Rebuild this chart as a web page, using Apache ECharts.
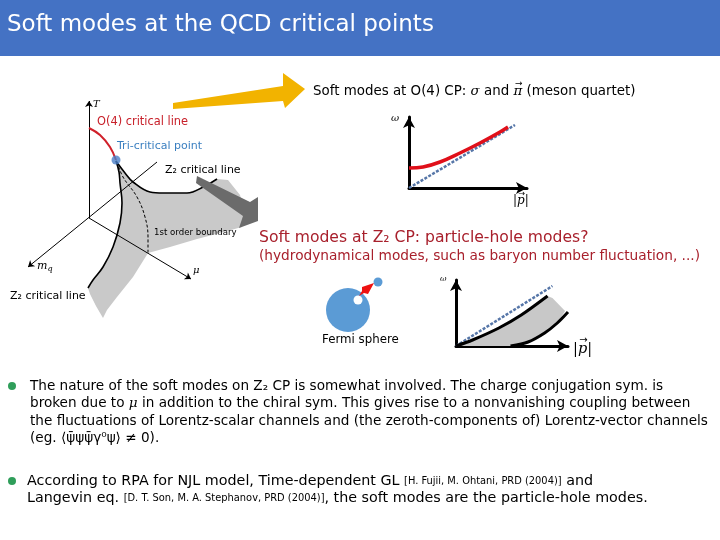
<!DOCTYPE html>
<html><head><meta charset="utf-8">
<script src="https://cdn.jsdelivr.net/npm/echarts@6/dist/echarts.min.js"></script>
<style>html,body{margin:0;padding:0;background:#fff}#c{width:720px;height:540px}</style>
</head><body><div id="c"></div>
<script>
// ---- Plot 1: soft modes at O(4) CP (|p|, omega) ----
const o4SigmaPi = [[0,20],[14,21],[31,26],[51,35],[71,45],[91,56],[99,61]];
const o4LightCone = [[0,0],[106,63]];
// ---- Plot 2: soft modes at Z2 CP ----
const z2LightCone = [[0,0],[99,60]];
const z2Upper = [[0,0],[17,6],[44,18],[67,31],[94,50]];
const z2Lower = [[56,0],[74,4],[91,13],[104,23],[115,34]];
const z2Band = [[0,0],[17,6],[44,18],[67,31],[94,50],[99,48],[112,35],[104,23],[91,13],[74,4],[56,0]];
// ---- Phase diagram sketch (page coordinates) ----
const axisT = [[89,218],[89,101]];
const axisMq = [[157,162],[28,267]];
const axisMu = [[89,218],[191,279]];
const o4Line = [[89,128],[100,135],[110,147],[116,160]];
const triCritical = [[116,160]];
const z2UpperLine = [[116,161],[125,173],[133,182],[150,192],[163,193],[187,193],[205,186],[217,179]];
const z2LowerLine = [[116,161],[119,172],[120,183],[122,203],[120,223],[113,247],[103,267],[93,280],[88,288]];
const firstOrderLine = [[117,162],[123,177],[137,197],[145,217],[148,237],[148,253]];
const surface = [[116,161],[125,173],[133,182],[150,192],[163,193],[187,193],[205,186],[217,179],[228,180],[240,195],[246,215],[242,227],[220,233],[197,239],[170,247],[148,253],[133,277],[117,297],[107,310],[103,318],[96,306],[90,294],[88,288],[93,280],[103,267],[113,247],[120,223],[122,203],[120,183],[119,172]];

const FONT = '"DejaVu Sans"';
const SERIF = '"DejaVu Serif"';
const mctx = document.createElement('canvas').getContext('2d');
function tw(s, f){ mctx.font = f; return mctx.measureText(s).width; }

const chart = echarts.init(document.getElementById('c'), null, {renderer:'canvas'});

function hiddenAxis(idx, min, max, inverse){
  return {gridIndex:idx, type:'value', min:min, max:max, inverse:!!inverse, show:false};
}
function arrowAxis(idx, max){
  return {gridIndex:idx, type:'value', min:0, max:max,
    axisLine:{show:true, onZero:true, symbol:['none','arrow'], symbolSize:[9,11], lineStyle:{color:'#000', width:3}},
    axisTick:{show:false}, axisLabel:{show:false}, splitLine:{show:false}};
}
function polygonSeries(xi, yi, pts, color, z){
  return {type:'custom', xAxisIndex:xi, yAxisIndex:yi, z:z, silent:true, clip:false, data:[[pts[0][0], pts[0][1]]],
    renderItem:function(params, api){
      return {type:'polygon', shape:{points: pts.map(p => api.coord(p))}, style:{fill:color}};
    }};
}
function txt(text, x, y, font, fill, extra){
  const s = Object.assign({text:text, x:x, y:y, verticalAlign:'middle', font:font, fill:fill||'#000'}, extra||{});
  return {type:'text', z:10, style:s};
}
// vector label |v| with an arrow over the letter
function vecLabel(x, y, size, letter){
  const f = size + 'px ' + SERIF;
  const fi = 'italic ' + size + 'px ' + SERIF;
  const w1 = tw('|', f), w2 = tw(letter, fi);
  const af = Math.round(size*0.7) + 'px ' + FONT;
  return [
    txt('|', x, y, f),
    txt(letter, x + w1, y, fi),
    txt('|', x + w1 + w2, y, f),
    txt('→', x + w1 + w2/2 + 1, y - size*0.62, af, '#000', {align:'center'})
  ];
}

// O(4) heading pieces
const o4Font = '13.4px ' + FONT, o4It = 'italic 13.4px ' + SERIF;
const o4a = 'Soft modes at O(4) CP: ', o4b = ' and ', o4c = ' (meson quartet)';
const xo = 313;
const xs = xo + tw(o4a, o4Font);
const xand = xs + tw('σ', o4It);
const xpi = xand + tw(o4b, o4Font);
const xrest = xpi + tw('π', o4It);
const o4Heading = [
  txt(o4a, xo, 92, o4Font),
  txt('σ', xs, 92, o4It),
  txt(o4b, xand, 92, o4Font),
  txt('π', xpi, 92, o4It),
  txt('→', xpi + tw('π', o4It)/2 + 1, 84, '9px ' + FONT, '#000', {align:'center'}),
  txt(o4c, xrest, 92, o4Font)
];

const B = '13.6px ' + FONT;
const B2 = '14.3px ' + FONT, R2 = '9.9px ' + FONT;

const option = {
  animation:false,
  backgroundColor:'#fff',
  grid:[
    {left:0, top:0, width:720, height:540},
    {left:409, top:117, width:118, height:71},
    {left:456, top:280, width:112, height:66}
  ],
  xAxis:[hiddenAxis(0,0,720), arrowAxis(1,118), arrowAxis(2,115)],
  yAxis:[hiddenAxis(0,0,540,true), arrowAxis(1,71), arrowAxis(2,66)],
  series:[
    polygonSeries(0,0,surface,'#c9c9c9',1),
    {type:'line', xAxisIndex:0, yAxisIndex:0, data:z2UpperLine, smooth:0.4, symbol:'none', z:3, lineStyle:{color:'#000', width:1.6}},
    {type:'line', xAxisIndex:0, yAxisIndex:0, data:z2LowerLine, smooth:0.4, symbol:'none', z:3, lineStyle:{color:'#000', width:1.6}},
    {type:'line', xAxisIndex:0, yAxisIndex:0, data:firstOrderLine, smooth:0.4, symbol:'none', z:3, lineStyle:{color:'#000', width:1, type:[3,2]}},
    {type:'lines', coordinateSystem:'cartesian2d', xAxisIndex:0, yAxisIndex:0, z:4, symbol:['none','arrow'], symbolSize:6,
      lineStyle:{color:'#000', width:1, opacity:1},
      data:[{coords:axisT},{coords:axisMq},{coords:axisMu}]},
    {type:'line', xAxisIndex:0, yAxisIndex:0, data:o4Line, smooth:0.4, symbol:'none', z:5, lineStyle:{color:'#d0202a', width:2}},
    {type:'scatter', xAxisIndex:0, yAxisIndex:0, data:triCritical, symbolSize:9, z:6, itemStyle:{color:'#4a7fc8'}},
    // plot 1
    {type:'line', xAxisIndex:1, yAxisIndex:1, data:o4LightCone, symbol:'none', z:5, lineStyle:{color:'#5676a8', width:2.5, type:[3,1.5]}},
    {type:'line', xAxisIndex:1, yAxisIndex:1, data:o4SigmaPi, smooth:0.4, symbol:'none', z:6, lineStyle:{color:'#e0101a', width:3.5}},
    // plot 2
    polygonSeries(2,2,z2Band,'#c8c8c8',2),
    {type:'line', xAxisIndex:2, yAxisIndex:2, data:z2LightCone, symbol:'none', z:5, lineStyle:{color:'#5676a8', width:2.5, type:[3,1.5]}},
    {type:'line', xAxisIndex:2, yAxisIndex:2, data:z2Upper, smooth:0.3, symbol:'none', z:6, lineStyle:{color:'#000', width:3}},
    {type:'line', xAxisIndex:2, yAxisIndex:2, data:z2Lower, smooth:0.3, symbol:'none', z:6, lineStyle:{color:'#000', width:3}}
  ],
  graphic:[
    {type:'rect', z:0, shape:{x:0, y:0, width:720, height:56}, style:{fill:'#4472C4'}},
    txt('Soft modes at the QCD critical points', 7, 25, '23px ' + FONT, '#fff'),
    // yellow arrow
    {type:'polygon', z:10, shape:{points:[[173,103],[283,86],[283,73],[305,89],[285,108],[283,101],[173,109]]}, style:{fill:'#F2B300'}},
    // gray arrow
    {type:'polygon', z:10, shape:{points:[[197,176],[250,202],[258,197],[258,221],[239,228],[243,216],[196,183]]}, style:{fill:'#6b6b6b'}},
    // Fermi sphere
    {type:'circle', z:10, shape:{cx:348, cy:310, r:22}, style:{fill:'#5b9bd5'}},
    {type:'circle', z:11, shape:{cx:358, cy:300, r:4.5}, style:{fill:'#fff'}},
    {type:'circle', z:11, shape:{cx:378, cy:282, r:4.5}, style:{fill:'#5b9bd5'}},
    {type:'polygon', z:12, shape:{points:[[359,296],[362,291],[362,287],[374,283],[368,294],[364,293]]}, style:{fill:'#ee1111'}},
    txt('Fermi sphere', 322, 340, '11.8px ' + FONT),
    // diagram labels
    txt('T', 93, 104, 'italic 10px ' + SERIF),
    txt('O(4) critical line', 97, 122, '11.4px ' + FONT, '#c8202a'),
    txt('Tri-critical point', 117, 146, '11px ' + FONT, '#3a7fc0'),
    txt('Z₂ critical line', 165, 170, '11px ' + FONT),
    txt('1st order boundary', 154, 233, '8.6px ' + FONT),
    {type:'text', z:10, style:{text:'{m|m}{q|q}', x:37, y:266, verticalAlign:'middle', rich:{m:{font:'italic 11px ' + SERIF, fill:'#000'}, q:{font:'italic 8px ' + SERIF, fill:'#000', padding:[5,0,0,0]}}}},
    txt('μ', 193, 270, 'italic 10px ' + SERIF),
    txt('Z₂ critical line', 10, 296, '11px ' + FONT),
    // plot 1 labels
    ...o4Heading,
    txt('ω', 391, 118, 'italic 10px ' + SERIF),
    ...vecLabel(513, 201, 12, 'p'),
    // Z2 text
    {type:'rect', z:9, shape:{x:258, y:226, width:455, height:40}, style:{fill:'#fff'}},
    txt('Soft modes at Z₂ CP: particle-hole modes?', 259, 238, '15.6px ' + FONT, '#a8202c'),
    txt('(hydrodynamical modes, such as baryon number fluctuation, ...)', 259, 256, '13.7px ' + FONT, '#a8202c'),
    txt('ω', 440, 279, 'italic 8px ' + SERIF),
    ...vecLabel(573, 349, 14.5, 'p'),
    // bullets
    {type:'circle', z:10, shape:{cx:12, cy:386, r:4}, style:{fill:'#2f9e5a'}},
    txt('The nature of the soft modes on Z₂ CP is somewhat involved. The charge conjugation sym. is', 30, 386, B),
    {type:'text', z:10, style:{text:'{a|broken due to }{m|μ}{a| in addition to the chiral sym. This gives rise to a nonvanishing coupling between}', x:30, y:403, verticalAlign:'middle',
      rich:{a:{font:B, fill:'#000'}, m:{font:'italic 13.6px ' + SERIF, fill:'#000'}}}},
    txt('the fluctuations of Lorentz-scalar channels and (the zeroth-components of) Lorentz-vector channels', 30, 421, B),
    txt('(eg. ⟨ψ̄ψψ̄γ⁰ψ⟩ ≠ 0).', 30, 438, B),
    {type:'circle', z:10, shape:{cx:12, cy:481, r:4}, style:{fill:'#2f9e5a'}},
    {type:'text', z:10, style:{text:'{a|According to RPA for NJL model, Time-dependent GL }{s|[H. Fujii, M. Ohtani, PRD (2004)]}{a| and}', x:27, y:481, verticalAlign:'middle',
      rich:{a:{font:B2, fill:'#000'}, s:{font:R2, fill:'#000'}}}},
    {type:'text', z:10, style:{text:'{a|Langevin eq. }{s|[D. T. Son, M. A. Stephanov, PRD (2004)]}{a|, the soft modes are the particle-hole modes.}', x:27, y:498, verticalAlign:'middle',
      rich:{a:{font:B2, fill:'#000'}, s:{font:R2, fill:'#000'}}}}
  ]
};
chart.setOption(option);
</script></body></html>
